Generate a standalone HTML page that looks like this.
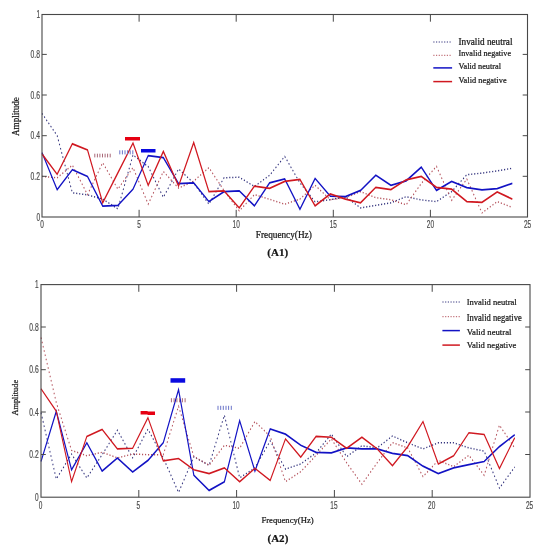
<!DOCTYPE html>
<html lang="en">
<head>
<meta charset="utf-8">
<title>Amplitude spectra A1 / A2</title>
<style>
html,body{margin:0;padding:0;background:#fff;}
body{width:538px;height:550px;overflow:hidden;}
svg{display:block;}
.tk text{font-family:"Liberation Sans",Arial,sans-serif;font-size:10.2px;fill:#4a4a4a;stroke:#4a4a4a;stroke-width:0.2px;}
.sf{font-family:"Liberation Serif","Times New Roman",serif;fill:#151515;stroke:#151515;stroke-width:0.22px;}
.b{font-weight:bold;}
</style>
</head>
<body>
<svg width="538" height="550" viewBox="0 0 538 550">
<rect width="538" height="550" fill="#ffffff"/>
<g id="a1">
<g transform="scale(0.667 1)" fill="none" stroke-linejoin="miter">
<polyline points="63.0,113.4 85.7,135.7 108.5,192.8 131.2,194.9 154.0,199.1 176.7,208.9 199.4,155.0 222.2,166.6 244.9,197.3 267.7,169.0 290.4,182.9 313.2,204.2 335.9,177.8 358.7,177.2 381.4,186.5 404.2,175.3 426.9,156.4 449.7,182.9 472.4,201.8 495.2,199.7 517.9,196.7 540.6,207.9 563.4,205.4 586.1,202.8 608.9,196.7 631.6,199.9 654.4,201.6 677.1,191.6 699.9,174.7 722.6,173.1 745.4,170.9 768.1,168.2" stroke="#34347e" stroke-width="1.45" stroke-dasharray="1.7 2.8"/>
<polyline points="63.0,176.4 85.7,177.8 108.5,165.2 131.2,194.6 154.0,162.7 176.7,189.2 199.4,167.6 222.2,204.2 244.9,171.5 267.7,188.1 290.4,181.2 313.2,167.6 335.9,190.6 358.7,210.9 381.4,194.6 404.2,199.3 426.9,204.2 449.7,199.1 472.4,185.3 495.2,199.7 517.9,197.7 540.6,191.6 563.4,197.7 586.1,199.7 608.9,204.8 631.6,183.5 654.4,166.4 677.1,200.3 699.9,179.0 722.6,212.9 745.4,201.6 768.1,207.4" stroke="#b4525c" stroke-width="1.45" stroke-dasharray="1.7 2.8"/>
<polyline points="63.0,152.6 85.7,189.6 108.5,169.7 131.2,176.4 154.0,206.0 176.7,205.4 199.4,189.2 222.2,155.6 244.9,157.7 267.7,183.5 290.4,182.9 313.2,201.6 335.9,191.6 358.7,190.8 381.4,205.8 404.2,182.9 426.9,179.0 449.7,209.3 472.4,178.4 495.2,196.1 517.9,196.7 540.6,190.4 563.4,175.3 586.1,185.3 608.9,180.8 631.6,167.2 654.4,190.4 677.1,181.4 699.9,187.7 722.6,189.8 745.4,188.6 768.1,183.3" stroke="#1212c4" stroke-width="1.75"/>
<polyline points="63.0,154.0 85.7,174.3 108.5,143.8 131.2,149.9 154.0,202.8 176.7,172.9 199.4,143.0 222.2,185.3 244.9,151.4 267.7,186.1 290.4,142.6 313.2,191.6 335.9,190.8 358.7,207.9 381.4,186.1 404.2,188.3 426.9,181.4 449.7,179.4 472.4,205.8 495.2,194.0 517.9,199.1 540.6,202.8 563.4,187.3 586.1,189.6 608.9,179.8 631.6,176.4 654.4,187.3 677.1,189.2 699.9,201.6 722.6,202.4 745.4,192.0 768.1,199.1" stroke="#d01820" stroke-width="1.75"/>
</g>
<rect x="42.0" y="14.5" width="485.5" height="202.5" fill="none" stroke="#484848" stroke-width="1.1"/>
<path d="M139.1 217.0v-7.2 M139.1 14.5v7.2 M236.2 217.0v-7.2 M236.2 14.5v7.2 M333.3 217.0v-7.2 M333.3 14.5v7.2 M430.4 217.0v-7.2 M430.4 14.5v7.2 M42.0 176.3h4.8 M527.5 176.3h-4.8 M42.0 135.7h4.8 M527.5 135.7h-4.8 M42.0 95.0h4.8 M527.5 95.0h-4.8 M42.0 54.4h4.8 M527.5 54.4h-4.8" stroke="#484848" stroke-width="1" fill="none"/>
<g class="tk">
<text x="42.0" y="228.4" textLength="3.6" lengthAdjust="spacingAndGlyphs" text-anchor="middle">0</text>
<text x="139.1" y="228.4" textLength="3.6" lengthAdjust="spacingAndGlyphs" text-anchor="middle">5</text>
<text x="236.2" y="228.4" textLength="7.2" lengthAdjust="spacingAndGlyphs" text-anchor="middle">10</text>
<text x="333.3" y="228.4" textLength="7.2" lengthAdjust="spacingAndGlyphs" text-anchor="middle">15</text>
<text x="430.4" y="228.4" textLength="7.2" lengthAdjust="spacingAndGlyphs" text-anchor="middle">20</text>
<text x="527.5" y="228.4" textLength="7.2" lengthAdjust="spacingAndGlyphs" text-anchor="middle">25</text>
<text x="40.0" y="220.6" textLength="3.6" lengthAdjust="spacingAndGlyphs" text-anchor="end">0</text>
<text x="40.0" y="179.9" textLength="9.4" lengthAdjust="spacingAndGlyphs" text-anchor="end">0.2</text>
<text x="40.0" y="139.3" textLength="9.4" lengthAdjust="spacingAndGlyphs" text-anchor="end">0.4</text>
<text x="40.0" y="98.6" textLength="9.4" lengthAdjust="spacingAndGlyphs" text-anchor="end">0.6</text>
<text x="40.0" y="58.0" textLength="9.4" lengthAdjust="spacingAndGlyphs" text-anchor="end">0.8</text>
<text x="40.0" y="18.1" textLength="3.6" lengthAdjust="spacingAndGlyphs" text-anchor="end">1</text>
</g>
<rect x="125" y="137" width="15" height="3.5" fill="#e60012"/>
<rect x="141" y="149" width="14.5" height="3.5" fill="#0a0ae0"/>
<path d="M94.8 153.7V157.4 M97.4 153.7V157.4 M99.9 153.7V157.4 M102.5 153.7V157.4 M105.1 153.7V157.4 M107.6 153.7V157.4 M110.2 153.7V157.4" stroke="#a86878" stroke-width="1" fill="none"/>
<path d="M119.8 150.3V154.4 M122.4 150.3V154.4 M125.0 150.3V154.4 M127.6 150.3V154.4 M130.2 150.3V154.4 M132.8 150.3V154.4" stroke="#6a74c8" stroke-width="1" fill="none"/>
<path d="M433.3 42.0H452.1" stroke="#34347e" stroke-width="1" stroke-dasharray="1.2 1.5" fill="none"/>
<text class="sf" x="458.5" y="44.6" font-size="9.4" textLength="54.0" lengthAdjust="spacingAndGlyphs">Invalid neutral</text>
<path d="M433.3 55.3H452.1" stroke="#b4525c" stroke-width="1" stroke-dasharray="1.2 1.5" fill="none"/>
<text class="sf" x="458.5" y="56.1" font-size="8.7" textLength="52.5" lengthAdjust="spacingAndGlyphs">Invalid negative</text>
<path d="M433.3 67.9H452.1" stroke="#1212c4" stroke-width="1.5" fill="none"/>
<text class="sf" x="458.5" y="69.0" font-size="8.7" textLength="42.5" lengthAdjust="spacingAndGlyphs">Valid neutral</text>
<path d="M433.3 81.6H452.1" stroke="#d01820" stroke-width="1.5" fill="none"/>
<text class="sf" x="458.5" y="82.9" font-size="8.9" textLength="48.1" lengthAdjust="spacingAndGlyphs">Valid negative</text>
<text class="sf" transform="translate(18.9 136.0) rotate(-90)" font-size="9.3" textLength="38.9" lengthAdjust="spacingAndGlyphs">Amplitude</text>
<text class="sf" x="255.8" y="237.9" font-size="9.3" textLength="56.0" lengthAdjust="spacingAndGlyphs">Frequency(Hz)</text>
<text class="sf b" x="267.3" y="256.2" font-size="10.5" textLength="20.8" lengthAdjust="spacingAndGlyphs">(A1)</text>
</g>
<g id="a2">
<g transform="scale(0.667 1)" fill="none" stroke-linejoin="miter">
<polyline points="61.5,412.6 84.4,479.1 107.3,454.0 130.2,477.9 153.1,454.7 176.0,430.2 198.9,457.9 221.8,429.2 244.8,457.9 267.7,492.5 290.6,456.8 313.5,465.3 336.4,415.1 359.3,477.9 382.2,467.9 405.1,440.9 428.0,469.1 450.9,464.0 473.9,452.8 496.8,434.1 519.7,456.6 542.6,445.8 565.5,447.9 588.4,436.0 611.3,442.8 634.2,448.9 657.1,442.8 680.1,442.8 703.0,447.9 725.9,451.1 748.8,488.1 771.7,467.0" stroke="#34347e" stroke-width="1.45" stroke-dasharray="1.7 2.8"/>
<polyline points="61.5,337.5 84.4,402.6 107.3,450.4 130.2,455.7 153.1,452.3 176.0,457.9 198.9,454.0 221.8,454.7 244.8,454.7 267.7,406.2 290.6,456.4 313.5,465.3 336.4,445.3 359.3,448.3 382.2,421.5 405.1,436.4 428.0,481.7 450.9,471.7 473.9,455.3 496.8,438.9 519.7,462.8 542.6,484.2 565.5,462.8 588.4,442.6 611.3,447.9 634.2,476.6 657.1,460.4 680.1,466.6 703.0,455.3 725.9,475.3 748.8,425.1 771.7,448.1" stroke="#b4525c" stroke-width="1.45" stroke-dasharray="1.7 2.8"/>
<polyline points="61.5,461.5 84.4,411.3 107.3,469.8 130.2,442.8 153.1,471.1 176.0,457.9 198.9,472.1 221.8,460.4 244.8,442.8 267.7,389.6 290.6,475.3 313.5,490.4 336.4,481.7 359.3,420.7 382.2,471.1 405.1,429.0 428.0,434.1 450.9,445.3 473.9,452.3 496.8,452.8 519.7,447.9 542.6,448.9 565.5,448.9 588.4,453.4 611.3,455.7 634.2,466.2 657.1,473.6 680.1,467.9 703.0,464.7 725.9,461.5 748.8,446.6 771.7,434.7" stroke="#1212c4" stroke-width="1.75"/>
<polyline points="61.5,388.8 84.4,411.3 107.3,481.7 130.2,436.4 153.1,429.4 176.0,448.9 198.9,448.3 221.8,417.7 244.8,460.8 267.7,458.5 290.6,469.8 313.5,473.6 336.4,467.9 359.3,481.7 382.2,468.3 405.1,480.4 428.0,438.9 450.9,457.2 473.9,436.4 496.8,437.2 519.7,448.3 542.6,437.2 565.5,448.9 588.4,465.7 611.3,446.6 634.2,421.5 657.1,464.0 680.1,455.7 703.0,432.8 725.9,434.5 748.8,468.5 771.7,437.7" stroke="#d01820" stroke-width="1.60"/>
</g>
<rect x="41.0" y="284.6" width="489.0" height="212.6" fill="none" stroke="#484848" stroke-width="1.1"/>
<path d="M138.8 497.2v-7.2 M138.8 284.6v7.2 M236.6 497.2v-7.2 M236.6 284.6v7.2 M334.4 497.2v-7.2 M334.4 284.6v7.2 M432.2 497.2v-7.2 M432.2 284.6v7.2 M41.0 454.5h4.8 M530.0 454.5h-4.8 M41.0 412.0h4.8 M530.0 412.0h-4.8 M41.0 369.7h4.8 M530.0 369.7h-4.8 M41.0 327.0h4.8 M530.0 327.0h-4.8" stroke="#484848" stroke-width="1" fill="none"/>
<g class="tk">
<text x="40.5" y="509.4" textLength="3.6" lengthAdjust="spacingAndGlyphs" text-anchor="middle">0</text>
<text x="138.3" y="509.4" textLength="3.6" lengthAdjust="spacingAndGlyphs" text-anchor="middle">5</text>
<text x="236.1" y="509.4" textLength="7.2" lengthAdjust="spacingAndGlyphs" text-anchor="middle">10</text>
<text x="333.9" y="509.4" textLength="7.2" lengthAdjust="spacingAndGlyphs" text-anchor="middle">15</text>
<text x="431.7" y="509.4" textLength="7.2" lengthAdjust="spacingAndGlyphs" text-anchor="middle">20</text>
<text x="529.5" y="509.4" textLength="7.2" lengthAdjust="spacingAndGlyphs" text-anchor="middle">25</text>
<text x="38.7" y="500.8" textLength="3.6" lengthAdjust="spacingAndGlyphs" text-anchor="end">0</text>
<text x="38.7" y="458.1" textLength="9.4" lengthAdjust="spacingAndGlyphs" text-anchor="end">0.2</text>
<text x="38.7" y="415.6" textLength="9.4" lengthAdjust="spacingAndGlyphs" text-anchor="end">0.4</text>
<text x="38.7" y="373.3" textLength="9.4" lengthAdjust="spacingAndGlyphs" text-anchor="end">0.6</text>
<text x="38.7" y="330.6" textLength="9.4" lengthAdjust="spacingAndGlyphs" text-anchor="end">0.8</text>
<text x="38.7" y="288.2" textLength="3.6" lengthAdjust="spacingAndGlyphs" text-anchor="end">1</text>
</g>
<path d="M140.6 410.9H147.6V411.6H155V415H147.6V414.6H140.6Z" fill="#e60012"/>
<rect x="170.5" y="378.2" width="14.7" height="4.5" fill="#0a0ae0"/>
<path d="M171.4 398.2V402.3 M174.1 398.2V402.3 M176.9 398.2V402.3 M179.6 398.2V402.3 M182.4 398.2V402.3 M185.1 398.2V402.3" stroke="#a86878" stroke-width="1" fill="none"/>
<path d="M218.0 405.8V409.9 M220.7 405.8V409.9 M223.3 405.8V409.9 M226.0 405.8V409.9 M228.6 405.8V409.9 M231.3 405.8V409.9" stroke="#6a74c8" stroke-width="1" fill="none"/>
<path d="M442.4 302.0H459.9" stroke="#34347e" stroke-width="1" stroke-dasharray="1.2 1.5" fill="none"/>
<text class="sf" x="466.7" y="304.7" font-size="9.1" textLength="50.0" lengthAdjust="spacingAndGlyphs">Invalid neutral</text>
<path d="M442.4 316.7H459.9" stroke="#b4525c" stroke-width="1" stroke-dasharray="1.2 1.5" fill="none"/>
<text class="sf" x="466.7" y="321.0" font-size="9.3" textLength="55.0" lengthAdjust="spacingAndGlyphs">Invalid negative</text>
<path d="M442.4 330.6H459.9" stroke="#1212c4" stroke-width="1.5" fill="none"/>
<text class="sf" x="466.7" y="334.8" font-size="9.2" textLength="44.8" lengthAdjust="spacingAndGlyphs">Valid neutral</text>
<path d="M442.4 345.1H459.9" stroke="#d01820" stroke-width="1.5" fill="none"/>
<text class="sf" x="466.7" y="347.6" font-size="9.2" textLength="49.6" lengthAdjust="spacingAndGlyphs">Valid negative</text>
<text class="sf" transform="translate(17.9 415.6) rotate(-90)" font-size="8.3" textLength="35.7" lengthAdjust="spacingAndGlyphs">Amplitude</text>
<text class="sf" x="261.4" y="523.0" font-size="8.8" textLength="52.2" lengthAdjust="spacingAndGlyphs">Frequency(Hz)</text>
<text class="sf b" x="267.5" y="541.7" font-size="10.5" textLength="20.8" lengthAdjust="spacingAndGlyphs">(A2)</text>
</g>
</svg>
</body>
</html>
